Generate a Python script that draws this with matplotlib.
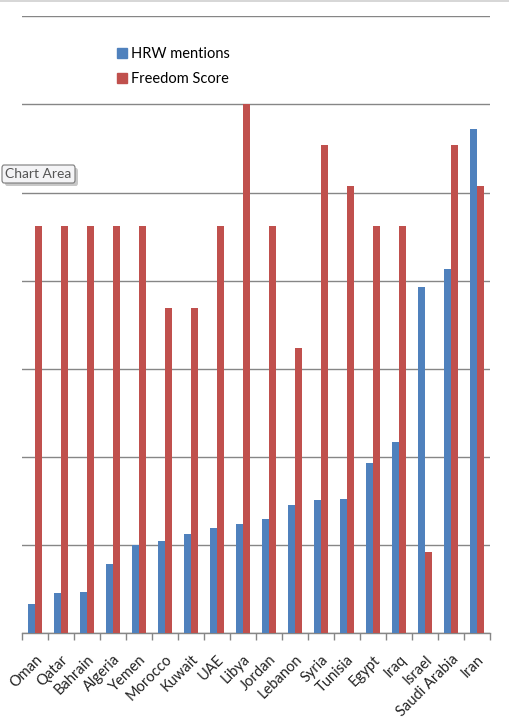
import numpy as np
import matplotlib

matplotlib.use("Agg")
import matplotlib.pyplot as plt
from matplotlib.ticker import MultipleLocator
from matplotlib.patches import FancyBboxPatch
from matplotlib.lines import Line2D

plt.rcParams["font.family"] = ["Lato", "DejaVu Sans"]

# --- данные (в единицах Freedom Score) ---
countries = ["Oman", "Qatar", "Bahrain", "Algeria", "Yemen", "Morocco", "Kuwait",
             "UAE", "Libya", "Jordan", "Lebanon", "Syria", "Tunisia", "Egypt",
             "Iraq", "Israel", "Saudi Arabia", "Iran"]
hrw_mentions = [0.71, 0.98, 1.0, 1.70, 2.16, 2.27, 2.43, 2.59, 2.67, 2.80,
                3.14, 3.27, 3.29, 4.18, 4.70, 8.50, 8.96, 12.39]
freedom_score = [10, 10, 10, 10, 10, 8, 8, 10, 13, 10, 7, 12, 11, 10, 10, 2, 12, 11]

BLUE = "#4f81bd"
RED = "#c0504d"
GRID = "#868686"

fig = plt.figure(figsize=(5.10, 7.22), dpi=100)
ax = fig.add_axes([22 / 510, 1 - 633 / 722, 468 / 510, 617 / 722])

n = len(countries)
xs = np.arange(n)
w = 1 / 3.5
ax.bar(xs - w / 2, hrw_mentions, width=w, color=BLUE, label="HRW mentions", zorder=3)
ax.bar(xs + w / 2, freedom_score, width=w, color=RED, label="Freedom Score", zorder=3)

step = 13 / 6
ax.set_ylim(0, 7 * step + 0.01)
ax.set_xlim(-0.5, n - 0.5)
ax.yaxis.set_major_locator(MultipleLocator(step))
ax.grid(axis="y", color=GRID, linewidth=1.0, zorder=0)
ax.tick_params(axis="y", left=False, labelleft=False)

for s in ("left", "right", "top"):
    ax.spines[s].set_visible(False)
ax.spines["bottom"].set_color(GRID)
ax.spines["bottom"].set_linewidth(1.0)

# деления между категориями, подписи по центрам
ax.set_xticks(np.arange(-0.5, n, 1.0))
ax.set_xticklabels([])
ax.tick_params(axis="x", direction="out", length=5, color=GRID, width=1)
ax.set_xticks(xs, minor=True)
ax.set_xticklabels(countries, minor=True, rotation=45, ha="right",
                   rotation_mode="anchor", fontsize=10.5, color="#222222")
ax.tick_params(axis="x", which="minor", length=0, pad=14)

# легенда
handles = [Line2D([], [], marker="s", linestyle="", markersize=7, color=BLUE),
           Line2D([], [], marker="s", linestyle="", markersize=7, color=RED)]
fig.legend(handles, ["HRW mentions", "Freedom Score"], loc="upper left",
           bbox_to_anchor=(102 / 510, 1 - 34 / 722), frameon=False,
           fontsize=10.5, handletextpad=0.1, labelspacing=0.75, handlelength=1.0)

# подсказка "Chart Area"
shadow = FancyBboxPatch((5 / 510, 1 - 186 / 722), 73 / 510, 18 / 722,
                        boxstyle="round,pad=0,rounding_size=0.004",
                        transform=fig.transFigure, facecolor="#c8c8c8",
                        edgecolor="none", zorder=4)
box = FancyBboxPatch((2 / 510, 1 - 183 / 722), 73 / 510, 18 / 722,
                     boxstyle="round,pad=0,rounding_size=0.004",
                     transform=fig.transFigure, facecolor="#f4f4f6",
                     edgecolor="#7a7a7a", linewidth=0.8, zorder=5)
fig.patches.extend([shadow, box])
fig.text(38.5 / 510, 1 - 174 / 722, "Chart Area", ha="center", va="center",
         fontsize=10, color="#555555", zorder=6)

# рамка области диаграммы сверху
fig.add_artist(Line2D([0, 1], [1 - 1 / 722, 1 - 1 / 722], color="#cfcfcf",
                      linewidth=1.2, transform=fig.transFigure))

fig.savefig("out.png", dpi=100)
